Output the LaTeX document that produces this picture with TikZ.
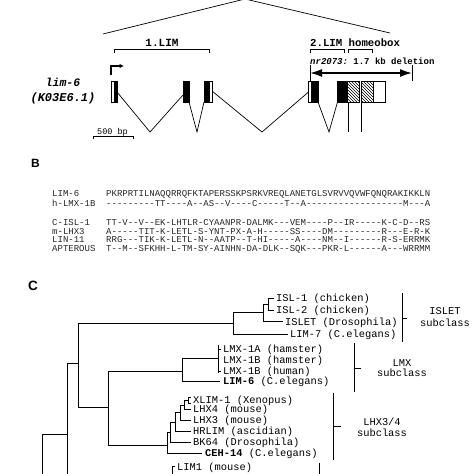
\documentclass[tikz,border=0pt]{standalone}
\usepackage{fontspec}
\setmonofont{Liberation Mono}
\setsansfont{Liberation Sans}
\usetikzlibrary{arrows.meta,patterns}
\tikzset{
  ln/.style={draw=black,line width=0.7pt},
  tr/.style={draw=black,line width=0.8pt},
  brk/.style={draw=black,line width=1pt},
  lbl/.style={anchor=base west,inner sep=0pt,font=\fontsize{10.4}{12}\ttfamily},
  lblc/.style={anchor=base,inner sep=0pt,font=\fontsize{10.4}{12}\ttfamily},
  seq/.style={anchor=base west,inner sep=0pt,font=\fontsize{9}{10}\ttfamily,text=black!85},
  hdr/.style={anchor=base west,inner sep=0pt,font=\fontsize{10.7}{12}\ttfamily\bfseries},
  panel/.style={anchor=base west,inner sep=0pt,font=\fontsize{12}{14}\sffamily\bfseries},
  exon/.style={draw=black,line width=0.6pt,fill=white},
  delarrow/.style={line width=1.6pt,{Latex[length=12pt,width=8pt]}-{Latex[length=12pt,width=8pt]}}
}
\begin{document}
\begin{tikzpicture}[x=1pt,y=-1pt]
\useasboundingbox (0,0) rectangle (474,474);
% ---------------- Panel A ----------------
\draw[ln] (103,34) -- (245,-1) -- (390,33);
\node[anchor=base,inner sep=0pt,font=\fontsize{11}{13}\ttfamily\bfseries] (lim1) at (162,46) {1.LIM};
\draw[brk] (114,53) -- (114,49) -- (209,49) -- (209,53);
\node[hdr] (lim2) at (310,46) {2.LIM homeobox};
\draw[brk] (310,53) -- (310,49) -- (344,49) -- (344,53);
\draw[brk] (348,53) -- (348,49) -- (372,49) -- (372,53);
\node[anchor=base west,inner sep=0pt,font=\fontsize{9}{10}\ttfamily\bfseries] (del) at (310,64.5) {{\itshape nr2073:} 1.7 kb deletion};
\draw[line width=0.8pt] (310,65) -- (310,81);
\draw[line width=0.8pt] (412,65) -- (412,81);
\draw[delarrow] (310,73) -- (412,73);
\draw[line width=1.1pt,-{Latex[length=4.5pt,width=4.5pt]}] (111,75) -- (111,66) -- (124,66);
\node[anchor=base,inner sep=0pt,font=\fontsize{11.5}{13}\ttfamily\bfseries\itshape] (gene) at (63,86) {lim-6};
\node[anchor=base,inner sep=0pt,font=\fontsize{12}{14}\ttfamily\bfseries\itshape] (cos) at (63,101) {(K03E6.1)};
% introns
\draw[ln] (117,92) -- (150,132) -- (183,95);
\draw[ln] (189,102) -- (197,132) -- (204,102);
\draw[ln] (212,91) -- (262,132) -- (308.5,92);
\draw[ln] (318,102) -- (329,132) -- (337.5,102);
\draw[ln] (348,102) -- (348,132);
\draw[ln] (361,102) -- (361,132);
% exons
\draw[exon] (111,81) rectangle (117,102);
\fill (113.5,81) rectangle (117,102);
\draw[exon,fill=black] (183,81) rectangle (189,102);
\draw[exon] (204,81) rectangle (212,102);
\fill (204,81) rectangle (209.5,102);
\draw[exon] (308.5,81) rectangle (318,102);
\fill (311,81) rectangle (318,102);
\draw[exon,fill=black] (337.5,81) rectangle (347.5,102);
\draw[exon,pattern=north west lines] (347.5,81) rectangle (359,102);
\draw[exon,pattern=north west lines] (361,81) rectangle (373,102);
\draw[exon] (373,81) rectangle (385,102);
% scale bar
\node[anchor=base west,inner sep=0pt,font=\fontsize{8.5}{10}\ttfamily] (bp) at (97,134) {500 bp};
\draw[line width=0.6pt] (93,139) -- (93,136.5) -- (133,136.5) -- (133,139);
% ---------------- Panel B ----------------
\node[panel] (pB) at (31,167) {B};
\node[seq] (n1) at (52,196) {LIM-6};
\node[seq] (s1) at (106,196) {PKRPRTILNAQQRRQFKTAPERSSKPSRKVREQLANETGLSVRVVQVWFQNQRAKIKKLN};
\node[seq] (n2) at (52,206) {h-LMX-1B};
\node[seq] (s2) at (106,206) {---------TT----A--AS--V----C-----T--A------------------M---A};
\node[seq] (n3) at (52,225.5) {C-ISL-1};
\node[seq] (s3) at (106,225.5) {TT-V--V--EK-LHTLR-CYAANPR-DALMK---VEM----P--IR-----K-C-D--RS};
\node[seq] (n4) at (52,234) {m-LHX3};
\node[seq] (s4) at (106,234) {A-----TIT-K-LETL-S-YNT-PX-A-H-----SS----DM---------R---E-R-K};
\node[seq] (n5) at (52,242.5) {LIN-11};
\node[seq] (s5) at (106,242.5) {RRG---TIK-K-LETL-N--AATP--T-HI-----A----NM--I------R-S-ERRMK};
\node[seq] (n6) at (52,251) {APTEROUS};
\node[seq] (s6) at (106,251) {T--M--SFKHH-L-TM-SY-AINHN-DA-DLK--SQK---PKR-L------A---WRRMM};
% ---------------- Panel C ----------------
\node[panel,font=\fontsize{13.5}{15}\sffamily\bfseries] (pC) at (28,290) {C};
% ISLET cluster
\draw[tr] (274,298) -- (268,298) -- (268,310) -- (274,310);
\draw[tr] (268,304) -- (263,304) -- (263,321) -- (283,321);
\draw[tr] (263,312) -- (233,312) -- (233,334) -- (288,334);
\draw[tr] (233,323) -- (78,323) -- (78,407) -- (108,407);
\node[lbl] (isl1) at (276,301) {ISL-1 (chicken)};
\node[lbl] (isl2) at (276,313) {ISL-2 (chicken)};
\node[lbl] (islet) at (285,325) {ISLET (Drosophila)};
\node[lbl] (lim7) at (290,337) {LIM-7 (C.elegans)};
% LMX cluster
\draw[tr] (108,371) -- (182,371);
\draw[tr] (182,358) -- (182,381) -- (220,381);
\draw[tr] (182,358) -- (218,358);
\draw[tr] (218,345) -- (218,373);
\draw[tr] (218,349) -- (221,349);
\draw[tr] (218,371) -- (221,371);
\node[lbl] (lmx1a) at (223,352) {LMX-1A (hamster)};
\node[lbl] (lmx1b) at (223,363) {LMX-1B (hamster)};
\node[lbl] (lmx1bh) at (223,374) {LMX-1B (human)};
\node[lbl] (lim6) at (223,384.5) {\bfseries LIM-6\mdseries{} (C.elegans)};
% LHX3/4 cluster
\draw[tr] (108,371) -- (108,445) -- (167,445);
\draw[tr] (191,397) -- (188,397) -- (188,403) -- (191,403);
\draw[tr] (188,400) -- (184,400) -- (184,409) -- (191,409);
\draw[tr] (184,405) -- (180,405) -- (180,420) -- (191,420);
\draw[tr] (180,412) -- (175,412) -- (175,431) -- (191,431);
\draw[tr] (175,422) -- (170,422) -- (170,442) -- (191,442);
\draw[tr] (170,432) -- (167,432) -- (167,453) -- (202,453);
\node[lbl] (xlim) at (193,403) {XLIM-1 (Xenopus)};
\node[lbl] (lhx4) at (193,412) {LHX4 (mouse)};
\node[lbl] (lhx3) at (193,423) {LHX3 (mouse)};
\node[lbl] (hrlim) at (193,434) {HRLIM (ascidian)};
\node[lbl] (bk64) at (193,445) {BK64 (Drosophila)};
\node[lbl] (ceh) at (205,456) {\bfseries CEH-14\mdseries{} (C.elegans)};
% deeper nodes
\draw[tr] (78,363) -- (67,363) -- (67,476);
\draw[tr] (67,434) -- (42,434) -- (42,476);
\draw[tr] (175,476) -- (172,476) -- (172,466) -- (175,466);
\node[lbl] (lim1m) at (177,470.5) {LIM1 (mouse)};
% subclass brackets
\draw[tr] (402,293) -- (402,342);
\draw[tr] (402,318) -- (407,318);
\node[lblc] (sc1a) at (445,314) {ISLET};
\node[lblc] (sc1b) at (445,326) {subclass};
\draw[tr] (354,343) -- (354,392);
\draw[tr] (354,368) -- (361,368);
\node[lblc] (sc2a) at (402,366) {LMX};
\node[lblc] (sc2b) at (402,376) {subclass};
\draw[tr] (333,393) -- (333,460);
\draw[tr] (333,426) -- (341,426);
\node[lblc] (sc3a) at (382,425) {LHX3/4};
\node[lblc] (sc3b) at (382,436) {subclass};
\draw[tr] (319,463) -- (319,476);
\end{tikzpicture}
\end{document}
